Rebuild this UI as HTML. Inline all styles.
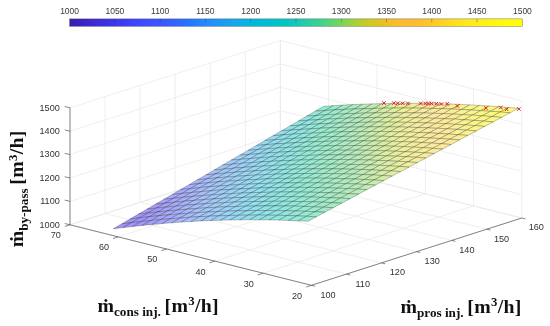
<!DOCTYPE html>
<html><head><meta charset="utf-8"><title>Surface plot</title>
<style>
html,body{margin:0;padding:0;background:#fff}
body{width:550px;height:326px;overflow:hidden}
svg{display:block}
.cb{font-family:"Liberation Sans",sans-serif;font-size:8.5px;fill:#3a3a3a}
.tk{font-family:"Liberation Sans",sans-serif;font-size:9.1px;fill:#333}
.lb{font-family:"Liberation Serif",serif;font-weight:bold;font-size:19.8px;fill:#111}
.sub{font-size:13.2px}
.sup{font-size:12.8px}
.un{letter-spacing:0.3px}
</style></head><body>
<svg width="550" height="326" viewBox="0 0 550 326">
<rect width="550" height="326" fill="#fff"/>
<defs><linearGradient id="pg" x1="0" x2="1" y1="0" y2="0">
<stop offset="0.0000" stop-color="#381eaf"/>
<stop offset="0.0125" stop-color="#3921b8"/>
<stop offset="0.0250" stop-color="#3a23c0"/>
<stop offset="0.0375" stop-color="#3b26c9"/>
<stop offset="0.0500" stop-color="#3c29d1"/>
<stop offset="0.0625" stop-color="#3d2cd9"/>
<stop offset="0.0750" stop-color="#3d2fe0"/>
<stop offset="0.0875" stop-color="#3e32e7"/>
<stop offset="0.1000" stop-color="#3e36ec"/>
<stop offset="0.1125" stop-color="#3e3af1"/>
<stop offset="0.1250" stop-color="#3e3ef5"/>
<stop offset="0.1375" stop-color="#3e43f9"/>
<stop offset="0.1500" stop-color="#3e47fc"/>
<stop offset="0.1625" stop-color="#3e4bff"/>
<stop offset="0.1750" stop-color="#3d4fff"/>
<stop offset="0.1875" stop-color="#3b52ff"/>
<stop offset="0.2000" stop-color="#3a56ff"/>
<stop offset="0.2125" stop-color="#385bff"/>
<stop offset="0.2250" stop-color="#3461ff"/>
<stop offset="0.2375" stop-color="#3066ff"/>
<stop offset="0.2500" stop-color="#2a6dff"/>
<stop offset="0.2625" stop-color="#2474ff"/>
<stop offset="0.2750" stop-color="#217cff"/>
<stop offset="0.2875" stop-color="#2183ff"/>
<stop offset="0.3000" stop-color="#208afd"/>
<stop offset="0.3125" stop-color="#1f90f9"/>
<stop offset="0.3250" stop-color="#1b96f5"/>
<stop offset="0.3375" stop-color="#199cf1"/>
<stop offset="0.3500" stop-color="#17a1ee"/>
<stop offset="0.3625" stop-color="#13a7ec"/>
<stop offset="0.3750" stop-color="#0face8"/>
<stop offset="0.3875" stop-color="#0bb1e4"/>
<stop offset="0.4000" stop-color="#03b6de"/>
<stop offset="0.4125" stop-color="#00b9da"/>
<stop offset="0.4250" stop-color="#00bdd6"/>
<stop offset="0.4375" stop-color="#00bfd1"/>
<stop offset="0.4500" stop-color="#00c1cd"/>
<stop offset="0.4625" stop-color="#00c3c8"/>
<stop offset="0.4750" stop-color="#00c5c3"/>
<stop offset="0.4875" stop-color="#0ac6be"/>
<stop offset="0.5000" stop-color="#13c8b9"/>
<stop offset="0.5125" stop-color="#1fcaaf"/>
<stop offset="0.5250" stop-color="#27cda5"/>
<stop offset="0.5375" stop-color="#2ed09b"/>
<stop offset="0.5500" stop-color="#38d28f"/>
<stop offset="0.5625" stop-color="#46d483"/>
<stop offset="0.5750" stop-color="#56d575"/>
<stop offset="0.5875" stop-color="#67d567"/>
<stop offset="0.6000" stop-color="#79d459"/>
<stop offset="0.6125" stop-color="#8bd34c"/>
<stop offset="0.6250" stop-color="#9dd13e"/>
<stop offset="0.6375" stop-color="#aecf32"/>
<stop offset="0.6500" stop-color="#bfcc28"/>
<stop offset="0.6625" stop-color="#ccc921"/>
<stop offset="0.6750" stop-color="#d8c61d"/>
<stop offset="0.6875" stop-color="#e3c31d"/>
<stop offset="0.7000" stop-color="#edc021"/>
<stop offset="0.7125" stop-color="#f4be26"/>
<stop offset="0.7250" stop-color="#fbbd2c"/>
<stop offset="0.7375" stop-color="#ffbb31"/>
<stop offset="0.7500" stop-color="#ffba30"/>
<stop offset="0.7625" stop-color="#ffbc2d"/>
<stop offset="0.7750" stop-color="#ffc02a"/>
<stop offset="0.7875" stop-color="#ffc527"/>
<stop offset="0.8000" stop-color="#ffca24"/>
<stop offset="0.8125" stop-color="#ffce22"/>
<stop offset="0.8250" stop-color="#ffd421"/>
<stop offset="0.8375" stop-color="#ffd91f"/>
<stop offset="0.8500" stop-color="#ffde1e"/>
<stop offset="0.8625" stop-color="#ffe31c"/>
<stop offset="0.8750" stop-color="#ffe71b"/>
<stop offset="0.8875" stop-color="#ffeb1a"/>
<stop offset="0.9000" stop-color="#ffee18"/>
<stop offset="0.9125" stop-color="#fff117"/>
<stop offset="0.9250" stop-color="#fff415"/>
<stop offset="0.9375" stop-color="#fff713"/>
<stop offset="0.9500" stop-color="#fff910"/>
<stop offset="0.9625" stop-color="#fffb0e"/>
<stop offset="0.9750" stop-color="#fffd0b"/>
<stop offset="0.9875" stop-color="#ffff08"/>
<stop offset="1.0000" stop-color="#fdff04"/>
</linearGradient></defs>
<rect x="69.6" y="18.9" width="452.8" height="7.4" fill="url(#pg)" stroke="#555" stroke-width="0.4"/>
<text x="69.6" y="14.3" class="cb" text-anchor="middle">1000</text>
<line x1="114.9" y1="18.9" x2="114.9" y2="22.4" stroke="#333" stroke-width="0.5" opacity="0.7"/>
<text x="114.9" y="14.3" class="cb" text-anchor="middle">1050</text>
<line x1="160.2" y1="18.9" x2="160.2" y2="22.4" stroke="#333" stroke-width="0.5" opacity="0.7"/>
<text x="160.2" y="14.3" class="cb" text-anchor="middle">1100</text>
<line x1="205.4" y1="18.9" x2="205.4" y2="22.4" stroke="#333" stroke-width="0.5" opacity="0.7"/>
<text x="205.4" y="14.3" class="cb" text-anchor="middle">1150</text>
<line x1="250.7" y1="18.9" x2="250.7" y2="22.4" stroke="#333" stroke-width="0.5" opacity="0.7"/>
<text x="250.7" y="14.3" class="cb" text-anchor="middle">1200</text>
<line x1="296.0" y1="18.9" x2="296.0" y2="22.4" stroke="#333" stroke-width="0.5" opacity="0.7"/>
<text x="296.0" y="14.3" class="cb" text-anchor="middle">1250</text>
<line x1="341.3" y1="18.9" x2="341.3" y2="22.4" stroke="#333" stroke-width="0.5" opacity="0.7"/>
<text x="341.3" y="14.3" class="cb" text-anchor="middle">1300</text>
<line x1="386.6" y1="18.9" x2="386.6" y2="22.4" stroke="#333" stroke-width="0.5" opacity="0.7"/>
<text x="386.6" y="14.3" class="cb" text-anchor="middle">1350</text>
<line x1="431.8" y1="18.9" x2="431.8" y2="22.4" stroke="#333" stroke-width="0.5" opacity="0.7"/>
<text x="431.8" y="14.3" class="cb" text-anchor="middle">1400</text>
<line x1="477.1" y1="18.9" x2="477.1" y2="22.4" stroke="#333" stroke-width="0.5" opacity="0.7"/>
<text x="477.1" y="14.3" class="cb" text-anchor="middle">1450</text>
<text x="522.4" y="14.3" class="cb" text-anchor="middle">1500</text>
<path d="M311.4 285.3 L521.8 218.0 M521.8 218.0 L521.8 101.0 M263.1 273.2 L473.5 205.9 M473.5 205.9 L473.5 88.9 M214.8 261.1 L425.3 193.8 M425.3 193.8 L425.3 76.8 M166.6 249.0 L377.0 181.7 M377.0 181.7 L377.0 64.7 M118.3 236.9 L328.7 169.6 M328.7 169.6 L328.7 52.6 M70.0 224.8 L280.4 157.5 M280.4 157.5 L280.4 40.5 M311.4 285.3 L70.0 224.8 M70.0 224.8 L70.0 107.8 M346.5 274.1 L105.1 213.6 M105.1 213.6 L105.1 96.6 M381.5 262.9 L140.1 202.4 M140.1 202.4 L140.1 85.4 M416.6 251.6 L175.2 191.1 M175.2 191.1 L175.2 74.1 M451.7 240.4 L210.3 179.9 M210.3 179.9 L210.3 62.9 M486.8 229.2 L245.3 168.7 M245.3 168.7 L245.3 51.7 M521.8 218.0 L280.4 157.5 M280.4 157.5 L280.4 40.5 M70.0 224.8 L280.4 157.5 M280.4 157.5 L521.8 218.0 M70.0 201.4 L280.4 134.1 M280.4 134.1 L521.8 194.6 M70.0 178.0 L280.4 110.7 M280.4 110.7 L521.8 171.2 M70.0 154.6 L280.4 87.3 M280.4 87.3 L521.8 147.8 M70.0 131.2 L280.4 63.9 M280.4 63.9 L521.8 124.4 M70.0 107.8 L280.4 40.5 M280.4 40.5 L521.8 101.0" stroke="#e6e6e6" stroke-width="0.65" fill="none"/>
<g stroke="#000" stroke-opacity="0.26" stroke-width="0.9" stroke-linejoin="round">
<path d="M315.2 111.2 L325.0 110.5 L333.4 105.7 L323.6 106.3 Z" fill="#95ead5"/>
<path d="M325.0 110.5 L334.7 109.9 L343.1 105.1 L333.4 105.7 Z" fill="#9bebce"/>
<path d="M334.7 109.9 L344.4 109.4 L352.9 104.6 L343.1 105.1 Z" fill="#a3ebc8"/>
<path d="M344.4 109.4 L354.2 109.0 L362.6 104.2 L352.9 104.6 Z" fill="#adebc1"/>
<path d="M354.2 109.0 L363.9 108.7 L372.3 103.9 L362.6 104.2 Z" fill="#b6ebbb"/>
<path d="M363.9 108.7 L373.7 108.4 L382.1 103.6 L372.3 103.9 Z" fill="#c3ecb2"/>
<path d="M373.7 108.4 L383.4 108.2 L391.8 103.4 L382.1 103.6 Z" fill="#d1eda9"/>
<path d="M383.4 108.2 L393.1 108.1 L401.6 103.3 L391.8 103.4 Z" fill="#deefa2"/>
<path d="M393.1 108.1 L402.9 108.0 L411.3 103.3 L401.6 103.3 Z" fill="#ebf09c"/>
<path d="M402.9 108.0 L412.6 108.1 L421.0 103.4 L411.3 103.3 Z" fill="#f1ee9c"/>
<path d="M412.6 108.1 L422.4 108.2 L430.8 103.5 L421.0 103.4 Z" fill="#f6ec9d"/>
<path d="M422.4 108.2 L432.1 108.4 L440.5 103.8 L430.8 103.5 Z" fill="#fae99f"/>
<path d="M432.1 108.4 L441.8 108.7 L450.3 104.0 L440.5 103.8 Z" fill="#fbeb9c"/>
<path d="M441.8 108.7 L451.6 109.0 L460.0 104.4 L450.3 104.0 Z" fill="#fcee97"/>
<path d="M451.6 109.0 L461.3 109.5 L469.7 104.9 L460.0 104.4 Z" fill="#fbf291"/>
<path d="M461.3 109.5 L471.1 110.0 L479.5 105.4 L469.7 104.9 Z" fill="#fbf589"/>
<path d="M471.1 110.0 L480.8 110.6 L489.2 106.0 L479.5 105.4 Z" fill="#faf884"/>
<path d="M480.8 110.6 L490.5 111.3 L499.0 106.7 L489.2 106.0 Z" fill="#faf982"/>
<path d="M490.5 111.3 L500.3 112.0 L508.7 107.5 L499.0 106.7 Z" fill="#faf981"/>
<path d="M500.3 112.0 L510.0 112.8 L518.4 108.3 L508.7 107.5 Z" fill="#faf980"/>
<path d="M306.8 116.1 L316.5 115.4 L325.0 110.5 L315.2 111.2 Z" fill="#93e9da"/>
<path d="M316.5 115.4 L326.3 114.8 L334.7 109.9 L325.0 110.5 Z" fill="#96ebd2"/>
<path d="M326.3 114.8 L336.0 114.3 L344.4 109.4 L334.7 109.9 Z" fill="#9eebcc"/>
<path d="M336.0 114.3 L345.8 113.8 L354.2 109.0 L344.4 109.4 Z" fill="#a5ebc6"/>
<path d="M345.8 113.8 L355.5 113.4 L363.9 108.7 L354.2 109.0 Z" fill="#afebbf"/>
<path d="M355.5 113.4 L365.2 113.1 L373.7 108.4 L363.9 108.7 Z" fill="#b9ebb9"/>
<path d="M365.2 113.1 L375.0 112.9 L383.4 108.2 L373.7 108.4 Z" fill="#c7ecb0"/>
<path d="M375.0 112.9 L384.7 112.8 L393.1 108.1 L383.4 108.2 Z" fill="#d4eea7"/>
<path d="M384.7 112.8 L394.5 112.7 L402.9 108.0 L393.1 108.1 Z" fill="#e1efa1"/>
<path d="M394.5 112.7 L404.2 112.8 L412.6 108.1 L402.9 108.0 Z" fill="#edf09b"/>
<path d="M404.2 112.8 L413.9 112.9 L422.4 108.2 L412.6 108.1 Z" fill="#f2ee9c"/>
<path d="M413.9 112.9 L423.7 113.0 L432.1 108.4 L422.4 108.2 Z" fill="#f7eb9e"/>
<path d="M423.7 113.0 L433.4 113.3 L441.8 108.7 L432.1 108.4 Z" fill="#fbe99f"/>
<path d="M433.4 113.3 L443.2 113.6 L451.6 109.0 L441.8 108.7 Z" fill="#fbec9b"/>
<path d="M443.2 113.6 L452.9 114.1 L461.3 109.5 L451.6 109.0 Z" fill="#fcee97"/>
<path d="M452.9 114.1 L462.6 114.6 L471.1 110.0 L461.3 109.5 Z" fill="#fbf290"/>
<path d="M462.6 114.6 L472.4 115.1 L480.8 110.6 L471.1 110.0 Z" fill="#fbf689"/>
<path d="M472.4 115.1 L482.1 115.8 L490.5 111.3 L480.8 110.6 Z" fill="#faf884"/>
<path d="M482.1 115.8 L491.9 116.5 L500.3 112.0 L490.5 111.3 Z" fill="#faf982"/>
<path d="M491.9 116.5 L501.6 117.4 L510.0 112.8 L500.3 112.0 Z" fill="#faf981"/>
<path d="M298.4 121.0 L308.1 120.3 L316.5 115.4 L306.8 116.1 Z" fill="#91e7e0"/>
<path d="M308.1 120.3 L317.9 119.7 L326.3 114.8 L316.5 115.4 Z" fill="#94e9d8"/>
<path d="M317.9 119.7 L327.6 119.1 L336.0 114.3 L326.3 114.8 Z" fill="#98ebd0"/>
<path d="M327.6 119.1 L337.3 118.6 L345.8 113.8 L336.0 114.3 Z" fill="#a0ebca"/>
<path d="M337.3 118.6 L347.1 118.2 L355.5 113.4 L345.8 113.8 Z" fill="#a8ebc4"/>
<path d="M347.1 118.2 L356.8 117.9 L365.2 113.1 L355.5 113.4 Z" fill="#b2ebbe"/>
<path d="M356.8 117.9 L366.6 117.7 L375.0 112.9 L365.2 113.1 Z" fill="#bcebb7"/>
<path d="M366.6 117.7 L376.3 117.5 L384.7 112.8 L375.0 112.9 Z" fill="#caedae"/>
<path d="M376.3 117.5 L386.0 117.4 L394.5 112.7 L384.7 112.8 Z" fill="#d7eea5"/>
<path d="M386.0 117.4 L395.8 117.4 L404.2 112.8 L394.5 112.7 Z" fill="#e3efa0"/>
<path d="M395.8 117.4 L405.5 117.5 L413.9 112.9 L404.2 112.8 Z" fill="#eff09b"/>
<path d="M405.5 117.5 L415.3 117.7 L423.7 113.0 L413.9 112.9 Z" fill="#f3ed9d"/>
<path d="M415.3 117.7 L425.0 117.9 L433.4 113.3 L423.7 113.0 Z" fill="#f7eb9e"/>
<path d="M425.0 117.9 L434.7 118.3 L443.2 113.6 L433.4 113.3 Z" fill="#fbe99f"/>
<path d="M434.7 118.3 L444.5 118.7 L452.9 114.1 L443.2 113.6 Z" fill="#fbec9b"/>
<path d="M444.5 118.7 L454.2 119.1 L462.6 114.6 L452.9 114.1 Z" fill="#fcee97"/>
<path d="M454.2 119.1 L464.0 119.7 L472.4 115.1 L462.6 114.6 Z" fill="#fbf290"/>
<path d="M464.0 119.7 L473.7 120.4 L482.1 115.8 L472.4 115.1 Z" fill="#fbf689"/>
<path d="M473.7 120.4 L483.4 121.1 L491.9 116.5 L482.1 115.8 Z" fill="#faf884"/>
<path d="M483.4 121.1 L493.2 121.9 L501.6 117.4 L491.9 116.5 Z" fill="#faf882"/>
<path d="M290.0 125.9 L299.7 125.2 L308.1 120.3 L298.4 121.0 Z" fill="#8fe5e5"/>
<path d="M299.7 125.2 L309.4 124.5 L317.9 119.7 L308.1 120.3 Z" fill="#92e8de"/>
<path d="M309.4 124.5 L319.2 123.9 L327.6 119.1 L317.9 119.7 Z" fill="#95ead6"/>
<path d="M319.2 123.9 L328.9 123.4 L337.3 118.6 L327.6 119.1 Z" fill="#9aebcf"/>
<path d="M328.9 123.4 L338.7 123.0 L347.1 118.2 L337.3 118.6 Z" fill="#a2ebc9"/>
<path d="M338.7 123.0 L348.4 122.7 L356.8 117.9 L347.1 118.2 Z" fill="#aaebc2"/>
<path d="M348.4 122.7 L358.1 122.4 L366.6 117.7 L356.8 117.9 Z" fill="#b4ebbc"/>
<path d="M358.1 122.4 L367.9 122.2 L376.3 117.5 L366.6 117.7 Z" fill="#bfecb5"/>
<path d="M367.9 122.2 L377.6 122.1 L386.0 117.4 L376.3 117.5 Z" fill="#cdedac"/>
<path d="M377.6 122.1 L387.4 122.1 L395.8 117.4 L386.0 117.4 Z" fill="#daeea4"/>
<path d="M387.4 122.1 L397.1 122.2 L405.5 117.5 L395.8 117.4 Z" fill="#e6ef9f"/>
<path d="M397.1 122.2 L406.8 122.3 L415.3 117.7 L405.5 117.5 Z" fill="#efef9b"/>
<path d="M406.8 122.3 L416.6 122.6 L425.0 117.9 L415.3 117.7 Z" fill="#f3ed9d"/>
<path d="M416.6 122.6 L426.3 122.9 L434.7 118.3 L425.0 117.9 Z" fill="#f8eb9e"/>
<path d="M426.3 122.9 L436.1 123.3 L444.5 118.7 L434.7 118.3 Z" fill="#fbe99e"/>
<path d="M436.1 123.3 L445.8 123.7 L454.2 119.1 L444.5 118.7 Z" fill="#fcec9a"/>
<path d="M445.8 123.7 L455.6 124.3 L464.0 119.7 L454.2 119.1 Z" fill="#fcef97"/>
<path d="M455.6 124.3 L465.3 124.9 L473.7 120.4 L464.0 119.7 Z" fill="#fbf290"/>
<path d="M465.3 124.9 L475.0 125.6 L483.4 121.1 L473.7 120.4 Z" fill="#fbf589"/>
<path d="M475.0 125.6 L484.8 126.4 L493.2 121.9 L483.4 121.1 Z" fill="#faf884"/>
<path d="M281.5 130.8 L291.3 130.0 L299.7 125.2 L290.0 125.9 Z" fill="#91e3e9"/>
<path d="M291.3 130.0 L301.0 129.4 L309.4 124.5 L299.7 125.2 Z" fill="#8fe6e3"/>
<path d="M301.0 129.4 L310.8 128.8 L319.2 123.9 L309.4 124.5 Z" fill="#92e8db"/>
<path d="M310.8 128.8 L320.5 128.2 L328.9 123.4 L319.2 123.9 Z" fill="#95ebd3"/>
<path d="M320.5 128.2 L330.2 127.8 L338.7 123.0 L328.9 123.4 Z" fill="#9cebcd"/>
<path d="M330.2 127.8 L340.0 127.4 L348.4 122.7 L338.7 123.0 Z" fill="#a4ebc7"/>
<path d="M340.0 127.4 L349.7 127.2 L358.1 122.4 L348.4 122.7 Z" fill="#adebc1"/>
<path d="M349.7 127.2 L359.5 127.0 L367.9 122.2 L358.1 122.4 Z" fill="#b6ebbb"/>
<path d="M359.5 127.0 L369.2 126.9 L377.6 122.1 L367.9 122.2 Z" fill="#c2ecb3"/>
<path d="M369.2 126.9 L379.0 126.8 L387.4 122.1 L377.6 122.1 Z" fill="#cfedaa"/>
<path d="M379.0 126.8 L388.7 126.9 L397.1 122.2 L387.4 122.1 Z" fill="#dceea3"/>
<path d="M388.7 126.9 L398.4 127.0 L406.8 122.3 L397.1 122.2 Z" fill="#e8ef9e"/>
<path d="M398.4 127.0 L408.2 127.2 L416.6 122.6 L406.8 122.3 Z" fill="#f0ef9c"/>
<path d="M408.2 127.2 L417.9 127.5 L426.3 122.9 L416.6 122.6 Z" fill="#f4ed9d"/>
<path d="M417.9 127.5 L427.7 127.9 L436.1 123.3 L426.3 122.9 Z" fill="#f8eb9e"/>
<path d="M427.7 127.9 L437.4 128.3 L445.8 123.7 L436.1 123.3 Z" fill="#fbea9e"/>
<path d="M437.4 128.3 L447.1 128.8 L455.6 124.3 L445.8 123.7 Z" fill="#fcec9a"/>
<path d="M447.1 128.8 L456.9 129.4 L465.3 124.9 L455.6 124.3 Z" fill="#fcef97"/>
<path d="M456.9 129.4 L466.6 130.1 L475.0 125.6 L465.3 124.9 Z" fill="#fbf290"/>
<path d="M466.6 130.1 L476.4 130.9 L484.8 126.4 L475.0 125.6 Z" fill="#fbf58a"/>
<path d="M273.1 135.7 L282.9 134.9 L291.3 130.0 L281.5 130.8 Z" fill="#93e0ed"/>
<path d="M282.9 134.9 L292.6 134.2 L301.0 129.4 L291.3 130.0 Z" fill="#90e4e7"/>
<path d="M292.6 134.2 L302.4 133.6 L310.8 128.8 L301.0 129.4 Z" fill="#90e7e1"/>
<path d="M302.4 133.6 L312.1 133.1 L320.5 128.2 L310.8 128.8 Z" fill="#93e9d9"/>
<path d="M312.1 133.1 L321.8 132.6 L330.2 127.8 L320.5 128.2 Z" fill="#97ebd1"/>
<path d="M321.8 132.6 L331.6 132.2 L340.0 127.4 L330.2 127.8 Z" fill="#9eebcb"/>
<path d="M331.6 132.2 L341.3 131.9 L349.7 127.2 L340.0 127.4 Z" fill="#a6ebc6"/>
<path d="M341.3 131.9 L351.1 131.7 L359.5 127.0 L349.7 127.2 Z" fill="#afebbf"/>
<path d="M351.1 131.7 L360.8 131.6 L369.2 126.9 L359.5 127.0 Z" fill="#b8ebba"/>
<path d="M360.8 131.6 L370.5 131.5 L379.0 126.8 L369.2 126.9 Z" fill="#c5ecb1"/>
<path d="M370.5 131.5 L380.3 131.5 L388.7 126.9 L379.0 126.8 Z" fill="#d2eda8"/>
<path d="M380.3 131.5 L390.0 131.6 L398.4 127.0 L388.7 126.9 Z" fill="#deefa2"/>
<path d="M390.0 131.6 L399.8 131.8 L408.2 127.2 L398.4 127.0 Z" fill="#e9f09d"/>
<path d="M399.8 131.8 L409.5 132.1 L417.9 127.5 L408.2 127.2 Z" fill="#f0ef9c"/>
<path d="M409.5 132.1 L419.2 132.5 L427.7 127.9 L417.9 127.5 Z" fill="#f4ed9d"/>
<path d="M419.2 132.5 L429.0 132.9 L437.4 128.3 L427.7 127.9 Z" fill="#f8ea9e"/>
<path d="M429.0 132.9 L438.7 133.4 L447.1 128.8 L437.4 128.3 Z" fill="#fbea9e"/>
<path d="M438.7 133.4 L448.5 134.0 L456.9 129.4 L447.1 128.8 Z" fill="#fcec9a"/>
<path d="M448.5 134.0 L458.2 134.7 L466.6 130.1 L456.9 129.4 Z" fill="#fcef97"/>
<path d="M458.2 134.7 L467.9 135.4 L476.4 130.9 L466.6 130.1 Z" fill="#fbf291"/>
<path d="M264.7 140.6 L274.5 139.8 L282.9 134.9 L273.1 135.7 Z" fill="#94def0"/>
<path d="M274.5 139.8 L284.2 139.1 L292.6 134.2 L282.9 134.9 Z" fill="#92e1eb"/>
<path d="M284.2 139.1 L293.9 138.4 L302.4 133.6 L292.6 134.2 Z" fill="#90e5e5"/>
<path d="M293.9 138.4 L303.7 137.9 L312.1 133.1 L302.4 133.6 Z" fill="#91e8de"/>
<path d="M303.7 137.9 L313.4 137.4 L321.8 132.6 L312.1 133.1 Z" fill="#94ead7"/>
<path d="M313.4 137.4 L323.2 137.0 L331.6 132.2 L321.8 132.6 Z" fill="#99ebd0"/>
<path d="M323.2 137.0 L332.9 136.7 L341.3 131.9 L331.6 132.2 Z" fill="#a0ebca"/>
<path d="M332.9 136.7 L342.6 136.4 L351.1 131.7 L341.3 131.9 Z" fill="#a8ebc4"/>
<path d="M342.6 136.4 L352.4 136.3 L360.8 131.6 L351.1 131.7 Z" fill="#b1ebbe"/>
<path d="M352.4 136.3 L362.1 136.2 L370.5 131.5 L360.8 131.6 Z" fill="#bbebb8"/>
<path d="M362.1 136.2 L371.9 136.2 L380.3 131.5 L370.5 131.5 Z" fill="#c8ecaf"/>
<path d="M371.9 136.2 L381.6 136.3 L390.0 131.6 L380.3 131.5 Z" fill="#d4eea7"/>
<path d="M381.6 136.3 L391.3 136.5 L399.8 131.8 L390.0 131.6 Z" fill="#e0efa1"/>
<path d="M391.3 136.5 L401.1 136.7 L409.5 132.1 L399.8 131.8 Z" fill="#ebf09c"/>
<path d="M401.1 136.7 L410.8 137.0 L419.2 132.5 L409.5 132.1 Z" fill="#f1ee9c"/>
<path d="M410.8 137.0 L420.6 137.5 L429.0 132.9 L419.2 132.5 Z" fill="#f5ec9d"/>
<path d="M420.6 137.5 L430.3 138.0 L438.7 133.4 L429.0 132.9 Z" fill="#f9ea9e"/>
<path d="M430.3 138.0 L440.0 138.5 L448.5 134.0 L438.7 133.4 Z" fill="#fbea9e"/>
<path d="M440.0 138.5 L449.8 139.2 L458.2 134.7 L448.5 134.0 Z" fill="#fcec9a"/>
<path d="M449.8 139.2 L459.5 139.9 L467.9 135.4 L458.2 134.7 Z" fill="#fcee97"/>
<path d="M256.3 145.5 L266.0 144.7 L274.5 139.8 L264.7 140.6 Z" fill="#98daf3"/>
<path d="M266.0 144.7 L275.8 143.9 L284.2 139.1 L274.5 139.8 Z" fill="#93dfef"/>
<path d="M275.8 143.9 L285.5 143.3 L293.9 138.4 L284.2 139.1 Z" fill="#91e3e9"/>
<path d="M285.5 143.3 L295.3 142.7 L303.7 137.9 L293.9 138.4 Z" fill="#8fe6e4"/>
<path d="M295.3 142.7 L305.0 142.2 L313.4 137.4 L303.7 137.9 Z" fill="#92e8dc"/>
<path d="M305.0 142.2 L314.7 141.7 L323.2 137.0 L313.4 137.4 Z" fill="#95ead4"/>
<path d="M314.7 141.7 L324.5 141.4 L332.9 136.7 L323.2 137.0 Z" fill="#9bebce"/>
<path d="M324.5 141.4 L334.2 141.1 L342.6 136.4 L332.9 136.7 Z" fill="#a2ebc8"/>
<path d="M334.2 141.1 L344.0 141.0 L352.4 136.3 L342.6 136.4 Z" fill="#aaebc3"/>
<path d="M344.0 141.0 L353.7 140.9 L362.1 136.2 L352.4 136.3 Z" fill="#b3ebbd"/>
<path d="M353.7 140.9 L363.4 140.9 L371.9 136.2 L362.1 136.2 Z" fill="#bdebb6"/>
<path d="M363.4 140.9 L373.2 140.9 L381.6 136.3 L371.9 136.2 Z" fill="#caedae"/>
<path d="M373.2 140.9 L382.9 141.1 L391.3 136.5 L381.6 136.3 Z" fill="#d6eea6"/>
<path d="M382.9 141.1 L392.7 141.3 L401.1 136.7 L391.3 136.5 Z" fill="#e1efa0"/>
<path d="M392.7 141.3 L402.4 141.6 L410.8 137.0 L401.1 136.7 Z" fill="#ecf09c"/>
<path d="M402.4 141.6 L412.1 142.0 L420.6 137.5 L410.8 137.0 Z" fill="#f1ee9c"/>
<path d="M412.1 142.0 L421.9 142.5 L430.3 138.0 L420.6 137.5 Z" fill="#f5ec9d"/>
<path d="M421.9 142.5 L431.6 143.1 L440.0 138.5 L430.3 138.0 Z" fill="#f9ea9e"/>
<path d="M431.6 143.1 L441.4 143.7 L449.8 139.2 L440.0 138.5 Z" fill="#fbea9e"/>
<path d="M441.4 143.7 L451.1 144.5 L459.5 139.9 L449.8 139.2 Z" fill="#fcec9a"/>
<path d="M247.9 150.4 L257.6 149.6 L266.0 144.7 L256.3 145.5 Z" fill="#9bd6f5"/>
<path d="M257.6 149.6 L267.4 148.8 L275.8 143.9 L266.0 144.7 Z" fill="#96dcf2"/>
<path d="M267.4 148.8 L277.1 148.1 L285.5 143.3 L275.8 143.9 Z" fill="#93e0ed"/>
<path d="M277.1 148.1 L286.8 147.5 L295.3 142.7 L285.5 143.3 Z" fill="#90e4e7"/>
<path d="M286.8 147.5 L296.6 147.0 L305.0 142.2 L295.3 142.7 Z" fill="#90e7e1"/>
<path d="M296.6 147.0 L306.3 146.5 L314.7 141.7 L305.0 142.2 Z" fill="#93e9da"/>
<path d="M306.3 146.5 L316.1 146.1 L324.5 141.4 L314.7 141.7 Z" fill="#96ebd2"/>
<path d="M316.1 146.1 L325.8 145.9 L334.2 141.1 L324.5 141.4 Z" fill="#9debcd"/>
<path d="M325.8 145.9 L335.5 145.7 L344.0 141.0 L334.2 141.1 Z" fill="#a4ebc7"/>
<path d="M335.5 145.7 L345.3 145.6 L353.7 140.9 L344.0 141.0 Z" fill="#acebc1"/>
<path d="M345.3 145.6 L355.0 145.5 L363.4 140.9 L353.7 140.9 Z" fill="#b5ebbc"/>
<path d="M355.0 145.5 L364.8 145.6 L373.2 140.9 L363.4 140.9 Z" fill="#c0ecb4"/>
<path d="M364.8 145.6 L374.5 145.7 L382.9 141.1 L373.2 140.9 Z" fill="#ccedac"/>
<path d="M374.5 145.7 L384.2 145.9 L392.7 141.3 L382.9 141.1 Z" fill="#d8eea5"/>
<path d="M384.2 145.9 L394.0 146.2 L402.4 141.6 L392.7 141.3 Z" fill="#e3efa0"/>
<path d="M394.0 146.2 L403.7 146.6 L412.1 142.0 L402.4 141.6 Z" fill="#edf09b"/>
<path d="M403.7 146.6 L413.5 147.1 L421.9 142.5 L412.1 142.0 Z" fill="#f2ee9c"/>
<path d="M413.5 147.1 L423.2 147.6 L431.6 143.1 L421.9 142.5 Z" fill="#f5ec9d"/>
<path d="M423.2 147.6 L432.9 148.3 L441.4 143.7 L431.6 143.1 Z" fill="#f9ea9e"/>
<path d="M432.9 148.3 L442.7 149.0 L451.1 144.5 L441.4 143.7 Z" fill="#fbea9e"/>
<path d="M239.5 155.3 L249.2 154.4 L257.6 149.6 L247.9 150.4 Z" fill="#9ed2f8"/>
<path d="M249.2 154.4 L258.9 153.6 L267.4 148.8 L257.6 149.6 Z" fill="#99d8f4"/>
<path d="M258.9 153.6 L268.7 152.9 L277.1 148.1 L267.4 148.8 Z" fill="#94ddf0"/>
<path d="M268.7 152.9 L278.4 152.3 L286.8 147.5 L277.1 148.1 Z" fill="#92e1eb"/>
<path d="M278.4 152.3 L288.2 151.7 L296.6 147.0 L286.8 147.5 Z" fill="#90e5e6"/>
<path d="M288.2 151.7 L297.9 151.3 L306.3 146.5 L296.6 147.0 Z" fill="#91e7df"/>
<path d="M297.9 151.3 L307.6 150.9 L316.1 146.1 L306.3 146.5 Z" fill="#94e9d8"/>
<path d="M307.6 150.9 L317.4 150.6 L325.8 145.9 L316.1 146.1 Z" fill="#98ebd1"/>
<path d="M317.4 150.6 L327.1 150.4 L335.5 145.7 L325.8 145.9 Z" fill="#9febcb"/>
<path d="M327.1 150.4 L336.9 150.2 L345.3 145.6 L335.5 145.7 Z" fill="#a5ebc6"/>
<path d="M336.9 150.2 L346.6 150.2 L355.0 145.5 L345.3 145.6 Z" fill="#aeebc0"/>
<path d="M346.6 150.2 L356.3 150.2 L364.8 145.6 L355.0 145.5 Z" fill="#b7ebba"/>
<path d="M356.3 150.2 L366.1 150.3 L374.5 145.7 L364.8 145.6 Z" fill="#c2ecb3"/>
<path d="M366.1 150.3 L375.8 150.5 L384.2 145.9 L374.5 145.7 Z" fill="#ceedab"/>
<path d="M375.8 150.5 L385.6 150.8 L394.0 146.2 L384.2 145.9 Z" fill="#d9eea4"/>
<path d="M385.6 150.8 L395.3 151.2 L403.7 146.6 L394.0 146.2 Z" fill="#e4ef9f"/>
<path d="M395.3 151.2 L405.1 151.7 L413.5 147.1 L403.7 146.6 Z" fill="#eef09b"/>
<path d="M405.1 151.7 L414.8 152.2 L423.2 147.6 L413.5 147.1 Z" fill="#f2ee9c"/>
<path d="M414.8 152.2 L424.5 152.8 L432.9 148.3 L423.2 147.6 Z" fill="#f5ec9d"/>
<path d="M424.5 152.8 L434.3 153.5 L442.7 149.0 L432.9 148.3 Z" fill="#f9ea9e"/>
<path d="M231.0 160.2 L240.8 159.3 L249.2 154.4 L239.5 155.3 Z" fill="#a1cef9"/>
<path d="M240.8 159.3 L250.5 158.5 L258.9 153.6 L249.2 154.4 Z" fill="#9cd4f7"/>
<path d="M250.5 158.5 L260.3 157.8 L268.7 152.9 L258.9 153.6 Z" fill="#98daf3"/>
<path d="M260.3 157.8 L270.0 157.1 L278.4 152.3 L268.7 152.9 Z" fill="#94dfef"/>
<path d="M270.0 157.1 L279.7 156.5 L288.2 151.7 L278.4 152.3 Z" fill="#91e2ea"/>
<path d="M279.7 156.5 L289.5 156.0 L297.9 151.3 L288.2 151.7 Z" fill="#8fe6e4"/>
<path d="M289.5 156.0 L299.2 155.6 L307.6 150.9 L297.9 151.3 Z" fill="#92e8dd"/>
<path d="M299.2 155.6 L309.0 155.3 L317.4 150.6 L307.6 150.9 Z" fill="#95ead6"/>
<path d="M309.0 155.3 L318.7 155.1 L327.1 150.4 L317.4 150.6 Z" fill="#99ebcf"/>
<path d="M318.7 155.1 L328.5 154.9 L336.9 150.2 L327.1 150.4 Z" fill="#a0ebca"/>
<path d="M328.5 154.9 L338.2 154.9 L346.6 150.2 L336.9 150.2 Z" fill="#a7ebc4"/>
<path d="M338.2 154.9 L347.9 154.9 L356.3 150.2 L346.6 150.2 Z" fill="#b0ebbf"/>
<path d="M347.9 154.9 L357.7 155.0 L366.1 150.3 L356.3 150.2 Z" fill="#b8ebb9"/>
<path d="M357.7 155.0 L367.4 155.2 L375.8 150.5 L366.1 150.3 Z" fill="#c4ecb2"/>
<path d="M367.4 155.2 L377.2 155.4 L385.6 150.8 L375.8 150.5 Z" fill="#d0edaa"/>
<path d="M377.2 155.4 L386.9 155.8 L395.3 151.2 L385.6 150.8 Z" fill="#dbeea3"/>
<path d="M386.9 155.8 L396.6 156.2 L405.1 151.7 L395.3 151.2 Z" fill="#e5ef9f"/>
<path d="M396.6 156.2 L406.4 156.7 L414.8 152.2 L405.1 151.7 Z" fill="#eef09b"/>
<path d="M406.4 156.7 L416.1 157.3 L424.5 152.8 L414.8 152.2 Z" fill="#f2ee9c"/>
<path d="M416.1 157.3 L425.9 158.0 L434.3 153.5 L424.5 152.8 Z" fill="#f5ec9d"/>
<path d="M222.6 165.1 L232.4 164.2 L240.8 159.3 L231.0 160.2 Z" fill="#a3caf9"/>
<path d="M232.4 164.2 L242.1 163.3 L250.5 158.5 L240.8 159.3 Z" fill="#9fd0f8"/>
<path d="M242.1 163.3 L251.9 162.6 L260.3 157.8 L250.5 158.5 Z" fill="#9bd6f5"/>
<path d="M251.9 162.6 L261.6 161.9 L270.0 157.1 L260.3 157.8 Z" fill="#96dcf2"/>
<path d="M261.6 161.9 L271.3 161.3 L279.7 156.5 L270.0 157.1 Z" fill="#93e0ed"/>
<path d="M271.3 161.3 L281.1 160.8 L289.5 156.0 L279.7 156.5 Z" fill="#91e3e8"/>
<path d="M281.1 160.8 L290.8 160.4 L299.2 155.6 L289.5 156.0 Z" fill="#90e6e2"/>
<path d="M290.8 160.4 L300.6 160.0 L309.0 155.3 L299.2 155.6 Z" fill="#92e8db"/>
<path d="M300.6 160.0 L310.3 159.8 L318.7 155.1 L309.0 155.3 Z" fill="#95ead4"/>
<path d="M310.3 159.8 L320.0 159.6 L328.5 154.9 L318.7 155.1 Z" fill="#9bebce"/>
<path d="M320.0 159.6 L329.8 159.5 L338.2 154.9 L328.5 154.9 Z" fill="#a2ebc9"/>
<path d="M329.8 159.5 L339.5 159.5 L347.9 154.9 L338.2 154.9 Z" fill="#a9ebc3"/>
<path d="M339.5 159.5 L349.3 159.6 L357.7 155.0 L347.9 154.9 Z" fill="#b2ebbe"/>
<path d="M349.3 159.6 L359.0 159.8 L367.4 155.2 L357.7 155.0 Z" fill="#baebb8"/>
<path d="M359.0 159.8 L368.7 160.0 L377.2 155.4 L367.4 155.2 Z" fill="#c6ecb1"/>
<path d="M368.7 160.0 L378.5 160.4 L386.9 155.8 L377.2 155.4 Z" fill="#d1eda9"/>
<path d="M378.5 160.4 L388.2 160.8 L396.6 156.2 L386.9 155.8 Z" fill="#dceea3"/>
<path d="M388.2 160.8 L398.0 161.3 L406.4 156.7 L396.6 156.2 Z" fill="#e6ef9f"/>
<path d="M398.0 161.3 L407.7 161.9 L416.1 157.3 L406.4 156.7 Z" fill="#eef09b"/>
<path d="M407.7 161.9 L417.4 162.5 L425.9 158.0 L416.1 157.3 Z" fill="#f2ee9c"/>
<path d="M214.2 170.0 L224.0 169.1 L232.4 164.2 L222.6 165.1 Z" fill="#a6c6fa"/>
<path d="M224.0 169.1 L233.7 168.2 L242.1 163.3 L232.4 164.2 Z" fill="#a2ccf9"/>
<path d="M233.7 168.2 L243.4 167.4 L251.9 162.6 L242.1 163.3 Z" fill="#9ed2f8"/>
<path d="M243.4 167.4 L253.2 166.7 L261.6 161.9 L251.9 162.6 Z" fill="#99d8f4"/>
<path d="M253.2 166.7 L262.9 166.1 L271.3 161.3 L261.6 161.9 Z" fill="#95ddf0"/>
<path d="M262.9 166.1 L272.7 165.6 L281.1 160.8 L271.3 161.3 Z" fill="#92e1ec"/>
<path d="M272.7 165.6 L282.4 165.1 L290.8 160.4 L281.1 160.8 Z" fill="#90e4e6"/>
<path d="M282.4 165.1 L292.1 164.8 L300.6 160.0 L290.8 160.4 Z" fill="#90e7e0"/>
<path d="M292.1 164.8 L301.9 164.5 L310.3 159.8 L300.6 160.0 Z" fill="#93e9d9"/>
<path d="M301.9 164.5 L311.6 164.3 L320.0 159.6 L310.3 159.8 Z" fill="#96ebd2"/>
<path d="M311.6 164.3 L321.4 164.2 L329.8 159.5 L320.0 159.6 Z" fill="#9debcd"/>
<path d="M321.4 164.2 L331.1 164.2 L339.5 159.5 L329.8 159.5 Z" fill="#a3ebc7"/>
<path d="M331.1 164.2 L340.8 164.2 L349.3 159.6 L339.5 159.5 Z" fill="#abebc2"/>
<path d="M340.8 164.2 L350.6 164.4 L359.0 159.8 L349.3 159.6 Z" fill="#b3ebbd"/>
<path d="M350.6 164.4 L360.3 164.6 L368.7 160.0 L359.0 159.8 Z" fill="#bcebb7"/>
<path d="M360.3 164.6 L370.1 164.9 L378.5 160.4 L368.7 160.0 Z" fill="#c7ecb0"/>
<path d="M370.1 164.9 L379.8 165.3 L388.2 160.8 L378.5 160.4 Z" fill="#d2eea8"/>
<path d="M379.8 165.3 L389.5 165.8 L398.0 161.3 L388.2 160.8 Z" fill="#dceea3"/>
<path d="M389.5 165.8 L399.3 166.4 L407.7 161.9 L398.0 161.3 Z" fill="#e6ef9f"/>
<path d="M399.3 166.4 L409.0 167.1 L417.4 162.5 L407.7 161.9 Z" fill="#eef09b"/>
<path d="M205.8 174.9 L215.5 173.9 L224.0 169.1 L214.2 170.0 Z" fill="#a8c2fa"/>
<path d="M215.5 173.9 L225.3 173.1 L233.7 168.2 L224.0 169.1 Z" fill="#a4c8f9"/>
<path d="M225.3 173.1 L235.0 172.2 L243.4 167.4 L233.7 168.2 Z" fill="#a0cef8"/>
<path d="M235.0 172.2 L244.8 171.5 L253.2 166.7 L243.4 167.4 Z" fill="#9cd4f7"/>
<path d="M244.8 171.5 L254.5 170.9 L262.9 166.1 L253.2 166.7 Z" fill="#98daf3"/>
<path d="M254.5 170.9 L264.2 170.3 L272.7 165.6 L262.9 166.1 Z" fill="#94dfef"/>
<path d="M264.2 170.3 L274.0 169.9 L282.4 165.1 L272.7 165.6 Z" fill="#91e2ea"/>
<path d="M274.0 169.9 L283.7 169.5 L292.1 164.8 L282.4 165.1 Z" fill="#8fe5e5"/>
<path d="M283.7 169.5 L293.5 169.2 L301.9 164.5 L292.1 164.8 Z" fill="#91e8de"/>
<path d="M293.5 169.2 L303.2 169.0 L311.6 164.3 L301.9 164.5 Z" fill="#94ead7"/>
<path d="M303.2 169.0 L312.9 168.9 L321.4 164.2 L311.6 164.3 Z" fill="#98ebd1"/>
<path d="M312.9 168.9 L322.7 168.8 L331.1 164.2 L321.4 164.2 Z" fill="#9eebcc"/>
<path d="M322.7 168.8 L332.4 168.9 L340.8 164.2 L331.1 164.2 Z" fill="#a4ebc6"/>
<path d="M332.4 168.9 L342.2 169.0 L350.6 164.4 L340.8 164.2 Z" fill="#acebc1"/>
<path d="M342.2 169.0 L351.9 169.2 L360.3 164.6 L350.6 164.4 Z" fill="#b4ebbc"/>
<path d="M351.9 169.2 L361.6 169.5 L370.1 164.9 L360.3 164.6 Z" fill="#bdebb6"/>
<path d="M361.6 169.5 L371.4 169.9 L379.8 165.3 L370.1 164.9 Z" fill="#c8edaf"/>
<path d="M371.4 169.9 L381.1 170.4 L389.5 165.8 L379.8 165.3 Z" fill="#d3eea8"/>
<path d="M381.1 170.4 L390.9 170.9 L399.3 166.4 L389.5 165.8 Z" fill="#ddefa2"/>
<path d="M390.9 170.9 L400.6 171.6 L409.0 167.1 L399.3 166.4 Z" fill="#e6ef9e"/>
<path d="M197.4 179.8 L207.1 178.8 L215.5 173.9 L205.8 174.9 Z" fill="#a8bbfb"/>
<path d="M207.1 178.8 L216.9 177.9 L225.3 173.1 L215.5 173.9 Z" fill="#a7c4fa"/>
<path d="M216.9 177.9 L226.6 177.1 L235.0 172.2 L225.3 173.1 Z" fill="#a3caf9"/>
<path d="M226.6 177.1 L236.3 176.3 L244.8 171.5 L235.0 172.2 Z" fill="#9fd0f8"/>
<path d="M236.3 176.3 L246.1 175.7 L254.5 170.9 L244.8 171.5 Z" fill="#9bd6f5"/>
<path d="M246.1 175.7 L255.8 175.1 L264.2 170.3 L254.5 170.9 Z" fill="#96dbf2"/>
<path d="M255.8 175.1 L265.6 174.6 L274.0 169.9 L264.2 170.3 Z" fill="#93e0ee"/>
<path d="M265.6 174.6 L275.3 174.2 L283.7 169.5 L274.0 169.9 Z" fill="#91e3e9"/>
<path d="M275.3 174.2 L285.0 173.9 L293.5 169.2 L283.7 169.5 Z" fill="#8fe6e4"/>
<path d="M285.0 173.9 L294.8 173.7 L303.2 169.0 L293.5 169.2 Z" fill="#92e8dc"/>
<path d="M294.8 173.7 L304.5 173.5 L312.9 168.9 L303.2 169.0 Z" fill="#95ead6"/>
<path d="M304.5 173.5 L314.3 173.5 L322.7 168.8 L312.9 168.9 Z" fill="#99ebd0"/>
<path d="M314.3 173.5 L324.0 173.5 L332.4 168.9 L322.7 168.8 Z" fill="#9febca"/>
<path d="M324.0 173.5 L333.7 173.6 L342.2 169.0 L332.4 168.9 Z" fill="#a6ebc5"/>
<path d="M333.7 173.6 L343.5 173.8 L351.9 169.2 L342.2 169.0 Z" fill="#aeebc0"/>
<path d="M343.5 173.8 L353.2 174.1 L361.6 169.5 L351.9 169.2 Z" fill="#b5ebbb"/>
<path d="M353.2 174.1 L363.0 174.5 L371.4 169.9 L361.6 169.5 Z" fill="#bfecb5"/>
<path d="M363.0 174.5 L372.7 174.9 L381.1 170.4 L371.4 169.9 Z" fill="#c9edae"/>
<path d="M372.7 174.9 L382.4 175.5 L390.9 170.9 L381.1 170.4 Z" fill="#d4eea7"/>
<path d="M382.4 175.5 L392.2 176.1 L400.6 171.6 L390.9 170.9 Z" fill="#ddefa2"/>
<path d="M189.0 184.7 L198.7 183.7 L207.1 178.8 L197.4 179.8 Z" fill="#a8b5fb"/>
<path d="M198.7 183.7 L208.4 182.8 L216.9 177.9 L207.1 178.8 Z" fill="#a8bffa"/>
<path d="M208.4 182.8 L218.2 181.9 L226.6 177.1 L216.9 177.9 Z" fill="#a6c7fa"/>
<path d="M218.2 181.9 L227.9 181.1 L236.3 176.3 L226.6 177.1 Z" fill="#a2cdf9"/>
<path d="M227.9 181.1 L237.7 180.5 L246.1 175.7 L236.3 176.3 Z" fill="#9ed2f8"/>
<path d="M237.7 180.5 L247.4 179.9 L255.8 175.1 L246.1 175.7 Z" fill="#99d8f4"/>
<path d="M247.4 179.9 L257.1 179.4 L265.6 174.6 L255.8 175.1 Z" fill="#95ddf1"/>
<path d="M257.1 179.4 L266.9 178.9 L275.3 174.2 L265.6 174.6 Z" fill="#92e1ec"/>
<path d="M266.9 178.9 L276.6 178.6 L285.0 173.9 L275.3 174.2 Z" fill="#90e4e7"/>
<path d="M276.6 178.6 L286.4 178.4 L294.8 173.7 L285.0 173.9 Z" fill="#90e7e2"/>
<path d="M286.4 178.4 L296.1 178.2 L304.5 173.5 L294.8 173.7 Z" fill="#93e9db"/>
<path d="M296.1 178.2 L305.8 178.1 L314.3 173.5 L304.5 173.5 Z" fill="#95ead4"/>
<path d="M305.8 178.1 L315.6 178.1 L324.0 173.5 L314.3 173.5 Z" fill="#9aebce"/>
<path d="M315.6 178.1 L325.3 178.2 L333.7 173.6 L324.0 173.5 Z" fill="#a1ebc9"/>
<path d="M325.3 178.2 L335.1 178.4 L343.5 173.8 L333.7 173.6 Z" fill="#a7ebc5"/>
<path d="M335.1 178.4 L344.8 178.7 L353.2 174.1 L343.5 173.8 Z" fill="#afebc0"/>
<path d="M344.8 178.7 L354.6 179.0 L363.0 174.5 L353.2 174.1 Z" fill="#b6ebbb"/>
<path d="M354.6 179.0 L364.3 179.5 L372.7 174.9 L363.0 174.5 Z" fill="#c0ecb4"/>
<path d="M364.3 179.5 L374.0 180.0 L382.4 175.5 L372.7 174.9 Z" fill="#caedae"/>
<path d="M374.0 180.0 L383.8 180.6 L392.2 176.1 L382.4 175.5 Z" fill="#d4eea7"/>
<path d="M180.5 189.6 L190.3 188.6 L198.7 183.7 L189.0 184.7 Z" fill="#a8affc"/>
<path d="M190.3 188.6 L200.0 187.6 L208.4 182.8 L198.7 183.7 Z" fill="#a8b9fb"/>
<path d="M200.0 187.6 L209.8 186.7 L218.2 181.9 L208.4 182.8 Z" fill="#a8c2fa"/>
<path d="M209.8 186.7 L219.5 186.0 L227.9 181.1 L218.2 181.9 Z" fill="#a4c9f9"/>
<path d="M219.5 186.0 L229.2 185.3 L237.7 180.5 L227.9 181.1 Z" fill="#a0cff8"/>
<path d="M229.2 185.3 L239.0 184.6 L247.4 179.9 L237.7 180.5 Z" fill="#9cd4f7"/>
<path d="M239.0 184.6 L248.7 184.1 L257.1 179.4 L247.4 179.9 Z" fill="#98d9f3"/>
<path d="M248.7 184.1 L258.5 183.7 L266.9 178.9 L257.1 179.4 Z" fill="#94def0"/>
<path d="M258.5 183.7 L268.2 183.3 L276.6 178.6 L266.9 178.9 Z" fill="#92e2eb"/>
<path d="M268.2 183.3 L277.9 183.0 L286.4 178.4 L276.6 178.6 Z" fill="#90e5e6"/>
<path d="M277.9 183.0 L287.7 182.9 L296.1 178.2 L286.4 178.4 Z" fill="#91e7e0"/>
<path d="M287.7 182.9 L297.4 182.8 L305.8 178.1 L296.1 178.2 Z" fill="#93e9d9"/>
<path d="M297.4 182.8 L307.2 182.8 L315.6 178.1 L305.8 178.1 Z" fill="#96ebd3"/>
<path d="M307.2 182.8 L316.9 182.8 L325.3 178.2 L315.6 178.1 Z" fill="#9cebcd"/>
<path d="M316.9 182.8 L326.7 183.0 L335.1 178.4 L325.3 178.2 Z" fill="#a2ebc9"/>
<path d="M326.7 183.0 L336.4 183.3 L344.8 178.7 L335.1 178.4 Z" fill="#a8ebc4"/>
<path d="M336.4 183.3 L346.1 183.6 L354.6 179.0 L344.8 178.7 Z" fill="#b0ebbf"/>
<path d="M346.1 183.6 L355.9 184.0 L364.3 179.5 L354.6 179.0 Z" fill="#b7ebba"/>
<path d="M355.9 184.0 L365.6 184.5 L374.0 180.0 L364.3 179.5 Z" fill="#c1ecb4"/>
<path d="M365.6 184.5 L375.4 185.1 L383.8 180.6 L374.0 180.0 Z" fill="#caedad"/>
<path d="M172.1 194.5 L181.9 193.5 L190.3 188.6 L180.5 189.6 Z" fill="#a7aafc"/>
<path d="M181.9 193.5 L191.6 192.5 L200.0 187.6 L190.3 188.6 Z" fill="#a8b3fb"/>
<path d="M191.6 192.5 L201.3 191.6 L209.8 186.7 L200.0 187.6 Z" fill="#a8bcfb"/>
<path d="M201.3 191.6 L211.1 190.8 L219.5 186.0 L209.8 186.7 Z" fill="#a7c5fa"/>
<path d="M211.1 190.8 L220.8 190.0 L229.2 185.3 L219.5 186.0 Z" fill="#a3cbf9"/>
<path d="M220.8 190.0 L230.6 189.4 L239.0 184.6 L229.2 185.3 Z" fill="#9fd0f8"/>
<path d="M230.6 189.4 L240.3 188.9 L248.7 184.1 L239.0 184.6 Z" fill="#9bd6f5"/>
<path d="M240.3 188.9 L250.1 188.4 L258.5 183.7 L248.7 184.1 Z" fill="#97dbf2"/>
<path d="M250.1 188.4 L259.8 188.0 L268.2 183.3 L258.5 183.7 Z" fill="#93dfee"/>
<path d="M259.8 188.0 L269.5 187.7 L277.9 183.0 L268.2 183.3 Z" fill="#91e2e9"/>
<path d="M269.5 187.7 L279.3 187.5 L287.7 182.9 L277.9 183.0 Z" fill="#8fe6e5"/>
<path d="M279.3 187.5 L289.0 187.4 L297.4 182.8 L287.7 182.9 Z" fill="#91e8de"/>
<path d="M289.0 187.4 L298.8 187.4 L307.2 182.8 L297.4 182.8 Z" fill="#94e9d8"/>
<path d="M298.8 187.4 L308.5 187.4 L316.9 182.8 L307.2 182.8 Z" fill="#97ebd1"/>
<path d="M308.5 187.4 L318.2 187.6 L326.7 183.0 L316.9 182.8 Z" fill="#9debcd"/>
<path d="M318.2 187.6 L328.0 187.8 L336.4 183.3 L326.7 183.0 Z" fill="#a3ebc8"/>
<path d="M328.0 187.8 L337.7 188.2 L346.1 183.6 L336.4 183.3 Z" fill="#aaebc3"/>
<path d="M337.7 188.2 L347.5 188.6 L355.9 184.0 L346.1 183.6 Z" fill="#b1ebbe"/>
<path d="M347.5 188.6 L357.2 189.1 L365.6 184.5 L355.9 184.0 Z" fill="#b8ebba"/>
<path d="M357.2 189.1 L366.9 189.6 L375.4 185.1 L365.6 184.5 Z" fill="#c1ecb4"/>
<path d="M163.7 199.4 L173.5 198.3 L181.9 193.5 L172.1 194.5 Z" fill="#a6a5fb"/>
<path d="M173.5 198.3 L183.2 197.3 L191.6 192.5 L181.9 193.5 Z" fill="#a8acfc"/>
<path d="M183.2 197.3 L192.9 196.4 L201.3 191.6 L191.6 192.5 Z" fill="#a8b6fb"/>
<path d="M192.9 196.4 L202.7 195.6 L211.1 190.8 L201.3 191.6 Z" fill="#a8c0fa"/>
<path d="M202.7 195.6 L212.4 194.8 L220.8 190.0 L211.1 190.8 Z" fill="#a5c7f9"/>
<path d="M212.4 194.8 L222.2 194.2 L230.6 189.4 L220.8 190.0 Z" fill="#a2cdf9"/>
<path d="M222.2 194.2 L231.9 193.6 L240.3 188.9 L230.6 189.4 Z" fill="#9ed2f8"/>
<path d="M231.9 193.6 L241.6 193.1 L250.1 188.4 L240.3 188.9 Z" fill="#99d7f4"/>
<path d="M241.6 193.1 L251.4 192.7 L259.8 188.0 L250.1 188.4 Z" fill="#95dcf1"/>
<path d="M251.4 192.7 L261.1 192.4 L269.5 187.7 L259.8 188.0 Z" fill="#93e0ed"/>
<path d="M261.1 192.4 L270.9 192.2 L279.3 187.5 L269.5 187.7 Z" fill="#91e3e8"/>
<path d="M270.9 192.2 L280.6 192.1 L289.0 187.4 L279.3 187.5 Z" fill="#8fe6e3"/>
<path d="M280.6 192.1 L290.3 192.0 L298.8 187.4 L289.0 187.4 Z" fill="#92e8dd"/>
<path d="M290.3 192.0 L300.1 192.1 L308.5 187.4 L298.8 187.4 Z" fill="#94ead6"/>
<path d="M300.1 192.1 L309.8 192.2 L318.2 187.6 L308.5 187.4 Z" fill="#98ebd0"/>
<path d="M309.8 192.2 L319.6 192.4 L328.0 187.8 L318.2 187.6 Z" fill="#9eebcc"/>
<path d="M319.6 192.4 L329.3 192.7 L337.7 188.2 L328.0 187.8 Z" fill="#a4ebc7"/>
<path d="M329.3 192.7 L339.0 193.1 L347.5 188.6 L337.7 188.2 Z" fill="#aaebc3"/>
<path d="M339.0 193.1 L348.8 193.6 L357.2 189.1 L347.5 188.6 Z" fill="#b1ebbe"/>
<path d="M348.8 193.6 L358.5 194.2 L366.9 189.6 L357.2 189.1 Z" fill="#b8ebba"/>
<path d="M155.3 204.3 L165.0 203.2 L173.5 198.3 L163.7 199.4 Z" fill="#a4a0fb"/>
<path d="M165.0 203.2 L174.8 202.2 L183.2 197.3 L173.5 198.3 Z" fill="#a7a8fc"/>
<path d="M174.8 202.2 L184.5 201.2 L192.9 196.4 L183.2 197.3 Z" fill="#a8b0fc"/>
<path d="M184.5 201.2 L194.3 200.4 L202.7 195.6 L192.9 196.4 Z" fill="#a8bafb"/>
<path d="M194.3 200.4 L204.0 199.6 L212.4 194.8 L202.7 195.6 Z" fill="#a8c3fa"/>
<path d="M204.0 199.6 L213.7 198.9 L222.2 194.2 L212.4 194.8 Z" fill="#a4c9f9"/>
<path d="M213.7 198.9 L223.5 198.3 L231.9 193.6 L222.2 194.2 Z" fill="#a0cff8"/>
<path d="M223.5 198.3 L233.2 197.8 L241.6 193.1 L231.9 193.6 Z" fill="#9cd4f7"/>
<path d="M233.2 197.8 L243.0 197.4 L251.4 192.7 L241.6 193.1 Z" fill="#98d9f3"/>
<path d="M243.0 197.4 L252.7 197.1 L261.1 192.4 L251.4 192.7 Z" fill="#94def0"/>
<path d="M252.7 197.1 L262.4 196.9 L270.9 192.2 L261.1 192.4 Z" fill="#92e1eb"/>
<path d="M262.4 196.9 L272.2 196.7 L280.6 192.1 L270.9 192.2 Z" fill="#90e4e7"/>
<path d="M272.2 196.7 L281.9 196.6 L290.3 192.0 L280.6 192.1 Z" fill="#90e7e2"/>
<path d="M281.9 196.6 L291.7 196.7 L300.1 192.1 L290.3 192.0 Z" fill="#92e8db"/>
<path d="M291.7 196.7 L301.4 196.8 L309.8 192.2 L300.1 192.1 Z" fill="#95ead5"/>
<path d="M301.4 196.8 L311.1 197.0 L319.6 192.4 L309.8 192.2 Z" fill="#99ebd0"/>
<path d="M311.1 197.0 L320.9 197.3 L329.3 192.7 L319.6 192.4 Z" fill="#9febcb"/>
<path d="M320.9 197.3 L330.6 197.7 L339.0 193.1 L329.3 192.7 Z" fill="#a4ebc7"/>
<path d="M330.6 197.7 L340.4 198.1 L348.8 193.6 L339.0 193.1 Z" fill="#abebc2"/>
<path d="M340.4 198.1 L350.1 198.7 L358.5 194.2 L348.8 193.6 Z" fill="#b2ebbe"/>
<path d="M146.9 209.2 L156.6 208.1 L165.0 203.2 L155.3 204.3 Z" fill="#a39bfa"/>
<path d="M156.6 208.1 L166.4 207.0 L174.8 202.2 L165.0 203.2 Z" fill="#a5a3fb"/>
<path d="M166.4 207.0 L176.1 206.1 L184.5 201.2 L174.8 202.2 Z" fill="#a8abfc"/>
<path d="M176.1 206.1 L185.8 205.2 L194.3 200.4 L184.5 201.2 Z" fill="#a8b4fb"/>
<path d="M185.8 205.2 L195.6 204.4 L204.0 199.6 L194.3 200.4 Z" fill="#a8bdfb"/>
<path d="M195.6 204.4 L205.3 203.7 L213.7 198.9 L204.0 199.6 Z" fill="#a7c5fa"/>
<path d="M205.3 203.7 L215.1 203.1 L223.5 198.3 L213.7 198.9 Z" fill="#a3cbf9"/>
<path d="M215.1 203.1 L224.8 202.6 L233.2 197.8 L223.5 198.3 Z" fill="#9fd0f8"/>
<path d="M224.8 202.6 L234.5 202.1 L243.0 197.4 L233.2 197.8 Z" fill="#9bd5f6"/>
<path d="M234.5 202.1 L244.3 201.8 L252.7 197.1 L243.0 197.4 Z" fill="#97daf2"/>
<path d="M244.3 201.8 L254.0 201.5 L262.4 196.9 L252.7 197.1 Z" fill="#94dfef"/>
<path d="M254.0 201.5 L263.8 201.4 L272.2 196.7 L262.4 196.9 Z" fill="#92e2ea"/>
<path d="M263.8 201.4 L273.5 201.3 L281.9 196.6 L272.2 196.7 Z" fill="#90e5e6"/>
<path d="M273.5 201.3 L283.2 201.3 L291.7 196.7 L281.9 196.6 Z" fill="#90e7e0"/>
<path d="M283.2 201.3 L293.0 201.4 L301.4 196.8 L291.7 196.7 Z" fill="#93e9da"/>
<path d="M293.0 201.4 L302.7 201.6 L311.1 197.0 L301.4 196.8 Z" fill="#95ead4"/>
<path d="M302.7 201.6 L312.5 201.8 L320.9 197.3 L311.1 197.0 Z" fill="#9aebcf"/>
<path d="M312.5 201.8 L322.2 202.2 L330.6 197.7 L320.9 197.3 Z" fill="#9febca"/>
<path d="M322.2 202.2 L331.9 202.7 L340.4 198.1 L330.6 197.7 Z" fill="#a5ebc6"/>
<path d="M331.9 202.7 L341.7 203.2 L350.1 198.7 L340.4 198.1 Z" fill="#abebc2"/>
<path d="M138.5 214.1 L148.2 213.0 L156.6 208.1 L146.9 209.2 Z" fill="#a297fa"/>
<path d="M148.2 213.0 L157.9 211.9 L166.4 207.0 L156.6 208.1 Z" fill="#a49efb"/>
<path d="M157.9 211.9 L167.7 210.9 L176.1 206.1 L166.4 207.0 Z" fill="#a6a6fb"/>
<path d="M167.7 210.9 L177.4 210.0 L185.8 205.2 L176.1 206.1 Z" fill="#a8aefc"/>
<path d="M177.4 210.0 L187.2 209.2 L195.6 204.4 L185.8 205.2 Z" fill="#a8b7fb"/>
<path d="M187.2 209.2 L196.9 208.5 L205.3 203.7 L195.6 204.4 Z" fill="#a8c0fa"/>
<path d="M196.9 208.5 L206.6 207.8 L215.1 203.1 L205.3 203.7 Z" fill="#a5c7f9"/>
<path d="M206.6 207.8 L216.4 207.3 L224.8 202.6 L215.1 203.1 Z" fill="#a2cdf9"/>
<path d="M216.4 207.3 L226.1 206.8 L234.5 202.1 L224.8 202.6 Z" fill="#9ed2f8"/>
<path d="M226.1 206.8 L235.9 206.5 L244.3 201.8 L234.5 202.1 Z" fill="#9ad7f5"/>
<path d="M235.9 206.5 L245.6 206.2 L254.0 201.5 L244.3 201.8 Z" fill="#96dcf1"/>
<path d="M245.6 206.2 L255.3 206.0 L263.8 201.4 L254.0 201.5 Z" fill="#93e0ee"/>
<path d="M255.3 206.0 L265.1 205.9 L273.5 201.3 L263.8 201.4 Z" fill="#91e3e9"/>
<path d="M265.1 205.9 L274.8 205.9 L283.2 201.3 L273.5 201.3 Z" fill="#8fe5e5"/>
<path d="M274.8 205.9 L284.6 206.0 L293.0 201.4 L283.2 201.3 Z" fill="#91e7df"/>
<path d="M284.6 206.0 L294.3 206.1 L302.7 201.6 L293.0 201.4 Z" fill="#93e9d9"/>
<path d="M294.3 206.1 L304.0 206.4 L312.5 201.8 L302.7 201.6 Z" fill="#96ebd3"/>
<path d="M304.0 206.4 L313.8 206.8 L322.2 202.2 L312.5 201.8 Z" fill="#9bebce"/>
<path d="M313.8 206.8 L323.5 207.2 L331.9 202.7 L322.2 202.2 Z" fill="#a0ebca"/>
<path d="M323.5 207.2 L333.3 207.7 L341.7 203.2 L331.9 202.7 Z" fill="#a5ebc6"/>
<path d="M130.0 219.0 L139.8 217.8 L148.2 213.0 L138.5 214.1 Z" fill="#a196f8"/>
<path d="M139.8 217.8 L149.5 216.7 L157.9 211.9 L148.2 213.0 Z" fill="#a39afa"/>
<path d="M149.5 216.7 L159.3 215.7 L167.7 210.9 L157.9 211.9 Z" fill="#a5a1fb"/>
<path d="M159.3 215.7 L169.0 214.8 L177.4 210.0 L167.7 210.9 Z" fill="#a7a9fc"/>
<path d="M169.0 214.8 L178.7 214.0 L187.2 209.2 L177.4 210.0 Z" fill="#a8b1fc"/>
<path d="M178.7 214.0 L188.5 213.2 L196.9 208.5 L187.2 209.2 Z" fill="#a8bafb"/>
<path d="M188.5 213.2 L198.2 212.6 L206.6 207.8 L196.9 208.5 Z" fill="#a8c3fa"/>
<path d="M198.2 212.6 L208.0 212.0 L216.4 207.3 L206.6 207.8 Z" fill="#a4c9f9"/>
<path d="M208.0 212.0 L217.7 211.5 L226.1 206.8 L216.4 207.3 Z" fill="#a0cef8"/>
<path d="M217.7 211.5 L227.4 211.2 L235.9 206.5 L226.1 206.8 Z" fill="#9dd4f7"/>
<path d="M227.4 211.2 L237.2 210.9 L245.6 206.2 L235.9 206.5 Z" fill="#99d8f4"/>
<path d="M237.2 210.9 L246.9 210.7 L255.3 206.0 L245.6 206.2 Z" fill="#95ddf1"/>
<path d="M246.9 210.7 L256.7 210.5 L265.1 205.9 L255.3 206.0 Z" fill="#93e0ec"/>
<path d="M256.7 210.5 L266.4 210.5 L274.8 205.9 L265.1 205.9 Z" fill="#91e3e8"/>
<path d="M266.4 210.5 L276.2 210.6 L284.6 206.0 L274.8 205.9 Z" fill="#8fe6e4"/>
<path d="M276.2 210.6 L285.9 210.7 L294.3 206.1 L284.6 206.0 Z" fill="#91e8de"/>
<path d="M285.9 210.7 L295.6 211.0 L304.0 206.4 L294.3 206.1 Z" fill="#94e9d8"/>
<path d="M295.6 211.0 L305.4 211.3 L313.8 206.8 L304.0 206.4 Z" fill="#96ebd2"/>
<path d="M305.4 211.3 L315.1 211.7 L323.5 207.2 L313.8 206.8 Z" fill="#9bebce"/>
<path d="M315.1 211.7 L324.9 212.2 L333.3 207.7 L323.5 207.2 Z" fill="#a0ebca"/>
<path d="M121.6 223.9 L131.4 222.7 L139.8 217.8 L130.0 219.0 Z" fill="#a094f7"/>
<path d="M131.4 222.7 L141.1 221.6 L149.5 216.7 L139.8 217.8 Z" fill="#a197f9"/>
<path d="M141.1 221.6 L150.8 220.6 L159.3 215.7 L149.5 216.7 Z" fill="#a39dfa"/>
<path d="M150.8 220.6 L160.6 219.6 L169.0 214.8 L159.3 215.7 Z" fill="#a6a4fb"/>
<path d="M160.6 219.6 L170.3 218.8 L178.7 214.0 L169.0 214.8 Z" fill="#a8abfc"/>
<path d="M170.3 218.8 L180.1 218.0 L188.5 213.2 L178.7 214.0 Z" fill="#a8b4fb"/>
<path d="M180.1 218.0 L189.8 217.3 L198.2 212.6 L188.5 213.2 Z" fill="#a8bdfa"/>
<path d="M189.8 217.3 L199.6 216.7 L208.0 212.0 L198.2 212.6 Z" fill="#a7c5fa"/>
<path d="M199.6 216.7 L209.3 216.2 L217.7 211.5 L208.0 212.0 Z" fill="#a3cbf9"/>
<path d="M209.3 216.2 L219.0 215.8 L227.4 211.2 L217.7 211.5 Z" fill="#9fd0f8"/>
<path d="M219.0 215.8 L228.8 215.5 L237.2 210.9 L227.4 211.2 Z" fill="#9cd5f6"/>
<path d="M228.8 215.5 L238.5 215.3 L246.9 210.7 L237.2 210.9 Z" fill="#98daf3"/>
<path d="M238.5 215.3 L248.3 215.2 L256.7 210.5 L246.9 210.7 Z" fill="#94def0"/>
<path d="M248.3 215.2 L258.0 215.1 L266.4 210.5 L256.7 210.5 Z" fill="#92e1eb"/>
<path d="M258.0 215.1 L267.7 215.2 L276.2 210.6 L266.4 210.5 Z" fill="#90e4e7"/>
<path d="M267.7 215.2 L277.5 215.3 L285.9 210.7 L276.2 210.6 Z" fill="#90e6e3"/>
<path d="M277.5 215.3 L287.2 215.5 L295.6 211.0 L285.9 210.7 Z" fill="#92e8dd"/>
<path d="M287.2 215.5 L297.0 215.9 L305.4 211.3 L295.6 211.0 Z" fill="#94ead7"/>
<path d="M297.0 215.9 L306.7 216.3 L315.1 211.7 L305.4 211.3 Z" fill="#96ebd2"/>
<path d="M306.7 216.3 L316.4 216.8 L324.9 212.2 L315.1 211.7 Z" fill="#9cebcd"/>
<path d="M113.2 228.8 L123.0 227.6 L131.4 222.7 L121.6 223.9 Z" fill="#9e92f6"/>
<path d="M123.0 227.6 L132.7 226.5 L141.1 221.6 L131.4 222.7 Z" fill="#a095f8"/>
<path d="M132.7 226.5 L142.4 225.4 L150.8 220.6 L141.1 221.6 Z" fill="#a298fa"/>
<path d="M142.4 225.4 L152.2 224.4 L160.6 219.6 L150.8 220.6 Z" fill="#a4a0fb"/>
<path d="M152.2 224.4 L161.9 223.6 L170.3 218.8 L160.6 219.6 Z" fill="#a6a7fb"/>
<path d="M161.9 223.6 L171.7 222.8 L180.1 218.0 L170.3 218.8 Z" fill="#a8aefc"/>
<path d="M171.7 222.8 L181.4 222.1 L189.8 217.3 L180.1 218.0 Z" fill="#a8b8fb"/>
<path d="M181.4 222.1 L191.1 221.5 L199.6 216.7 L189.8 217.3 Z" fill="#a8c0fa"/>
<path d="M191.1 221.5 L200.9 220.9 L209.3 216.2 L199.6 216.7 Z" fill="#a5c7f9"/>
<path d="M200.9 220.9 L210.6 220.5 L219.0 215.8 L209.3 216.2 Z" fill="#a2ccf9"/>
<path d="M210.6 220.5 L220.4 220.2 L228.8 215.5 L219.0 215.8 Z" fill="#9ed2f8"/>
<path d="M220.4 220.2 L230.1 219.9 L238.5 215.3 L228.8 215.5 Z" fill="#9ad6f5"/>
<path d="M230.1 219.9 L239.8 219.8 L248.3 215.2 L238.5 215.3 Z" fill="#97dbf2"/>
<path d="M239.8 219.8 L249.6 219.7 L258.0 215.1 L248.3 215.2 Z" fill="#93dfef"/>
<path d="M249.6 219.7 L259.3 219.8 L267.7 215.2 L258.0 215.1 Z" fill="#92e2ea"/>
<path d="M259.3 219.8 L269.1 219.9 L277.5 215.3 L267.7 215.2 Z" fill="#90e4e6"/>
<path d="M269.1 219.9 L278.8 220.1 L287.2 215.5 L277.5 215.3 Z" fill="#90e7e1"/>
<path d="M278.8 220.1 L288.5 220.4 L297.0 215.9 L287.2 215.5 Z" fill="#92e8dc"/>
<path d="M288.5 220.4 L298.3 220.8 L306.7 216.3 L297.0 215.9 Z" fill="#94ead6"/>
<path d="M298.3 220.8 L308.0 221.3 L316.4 216.8 L306.7 216.3 Z" fill="#97ebd1"/>
</g>
<path d="M382.2 101.3 l3.5 3.5 M382.2 104.8 l3.5 -3.5 M392.1 101.3 l3.5 3.5 M392.1 104.8 l3.5 -3.5 M395.9 101.5 l3.5 3.5 M395.9 105.0 l3.5 -3.5 M400.9 101.5 l3.5 3.5 M400.9 105.0 l3.5 -3.5 M406.1 101.7 l3.5 3.5 M406.1 105.2 l3.5 -3.5 M419.1 101.7 l3.5 3.5 M419.1 105.2 l3.5 -3.5 M423.6 101.8 l3.5 3.5 M423.6 105.2 l3.5 -3.5 M426.4 101.8 l3.5 3.5 M426.4 105.2 l3.5 -3.5 M429.9 101.8 l3.5 3.5 M429.9 105.3 l3.5 -3.5 M434.6 102.0 l3.5 3.5 M434.6 105.5 l3.5 -3.5 M439.6 102.2 l3.5 3.5 M439.6 105.8 l3.5 -3.5 M445.4 102.0 l3.5 3.5 M445.4 105.5 l3.5 -3.5 M455.6 104.2 l3.5 3.5 M455.6 107.8 l3.5 -3.5 M484.1 106.2 l3.5 3.5 M484.1 109.8 l3.5 -3.5 M499.1 105.8 l3.5 3.5 M499.1 109.2 l3.5 -3.5 M504.9 107.5 l3.5 3.5 M504.9 111.0 l3.5 -3.5 M517.1 107.2 l3.5 3.5 M517.1 110.7 l3.5 -3.5" stroke="#e0201c" stroke-width="1.0" fill="none"/>
<text x="59.8" y="227.6" class="tk" text-anchor="end">1000</text>
<text x="59.8" y="204.2" class="tk" text-anchor="end">1100</text>
<text x="59.8" y="180.8" class="tk" text-anchor="end">1200</text>
<text x="59.8" y="157.4" class="tk" text-anchor="end">1300</text>
<text x="59.8" y="134.0" class="tk" text-anchor="end">1400</text>
<text x="59.8" y="110.6" class="tk" text-anchor="end">1500</text>
<text x="297.1" y="298.7" class="tk" text-anchor="middle">20</text>
<text x="248.8" y="286.6" class="tk" text-anchor="middle">30</text>
<text x="200.5" y="274.5" class="tk" text-anchor="middle">40</text>
<text x="152.3" y="262.4" class="tk" text-anchor="middle">50</text>
<text x="104.0" y="250.3" class="tk" text-anchor="middle">60</text>
<text x="55.7" y="238.2" class="tk" text-anchor="middle">70</text>
<text x="328.0" y="297.7" class="tk" text-anchor="middle">100</text>
<text x="362.7" y="286.5" class="tk" text-anchor="middle">110</text>
<text x="397.4" y="275.3" class="tk" text-anchor="middle">120</text>
<text x="432.2" y="264.0" class="tk" text-anchor="middle">130</text>
<text x="466.9" y="252.8" class="tk" text-anchor="middle">140</text>
<text x="501.6" y="241.6" class="tk" text-anchor="middle">150</text>
<text x="536.3" y="230.4" class="tk" text-anchor="middle">160</text>
<path d="M70.0 107.8 L70.0 224.8 M70.0 224.8 L311.4 285.3 M311.4 285.3 L521.8 218.0 M70.0 224.8 L64.7 223.5 M70.0 201.4 L64.7 200.1 M70.0 178.0 L64.7 176.7 M70.0 154.6 L64.7 153.3 M70.0 131.2 L64.7 129.9 M70.0 107.8 L64.7 106.5 M311.4 285.3 L306.2 287.0 M263.1 273.2 L257.9 274.9 M214.8 261.1 L209.6 262.8 M166.6 249.0 L161.3 250.7 M118.3 236.9 L113.0 238.6 M70.0 224.8 L64.8 226.5 M311.4 285.3 L315.1 286.2 M346.5 274.1 L350.2 275.0 M381.5 262.9 L385.2 263.8 M416.6 251.6 L420.3 252.6 M451.7 240.4 L455.4 241.3 M486.8 229.2 L490.4 230.1 M521.8 218.0 L525.5 218.9" stroke="#555" stroke-width="0.7" fill="none"/>
<text class="lb" x="97.5" y="311.6">ṁ<tspan class="sub" dy="4.6">cons inj.</tspan><tspan class="un" dx="-1.6" dy="-4.6"> [m</tspan><tspan class="sup un" dy="-6.5">3</tspan><tspan class="un" dy="6.5">/h]</tspan></text>
<text class="lb" x="400.5" y="312.6">ṁ<tspan class="sub" dy="4.6">pros inj.</tspan><tspan class="un" dx="-1.6" dy="-4.6"> [m</tspan><tspan class="sup un" dy="-6.5">3</tspan><tspan class="un" dy="6.5">/h]</tspan></text>
<text class="lb" transform="translate(23.1,247.3) rotate(-90)">ṁ<tspan class="sub" dy="4.6">by-pass</tspan><tspan class="un" dx="-1.6" dy="-4.6"> [m</tspan><tspan class="sup un" dy="-6.5">3</tspan><tspan class="un" dy="6.5">/h]</tspan></text>
</svg>
</body></html>
